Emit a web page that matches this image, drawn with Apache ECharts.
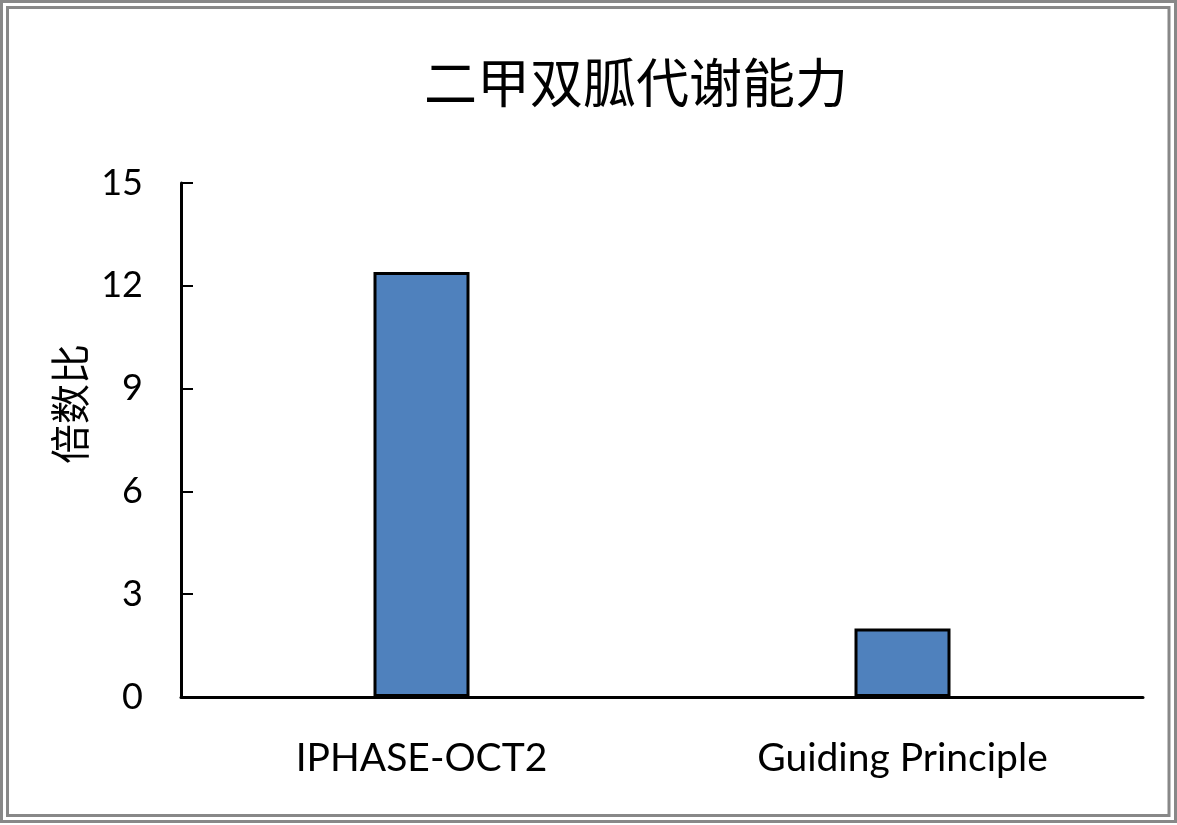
<!DOCTYPE html>
<html><head><meta charset="utf-8">
<script src="https://cdn.jsdelivr.net/npm/echarts@6/dist/echarts.min.js"></script>
<style>html,body{margin:0;padding:0;background:#fff}#c{width:1177px;height:825px}</style>
</head><body><div id="c"></div>
<script>
const categories = ['IPHASE-OCT2', 'Guiding Principle'];
const values = [12.4, 2.0];
const yTicks = [0, 3, 6, 9, 12, 15];
const titleText = '二甲双胍代谢能力';
const yName = '倍数比';

const chart = echarts.init(document.getElementById('c'), null, {renderer: 'canvas'});
chart.setOption({
  animation: false,
  backgroundColor: '#fff',
  grid: {left: 181, right: 34, top: 183, bottom: 128},
  xAxis: {
    type: 'category', data: categories,
    axisLine: {lineStyle: {color: '#000', width: 3}},
    axisTick: {show: false},
    axisLabel: {fontFamily: 'Lato', fontSize: 39, color: '#000', margin: 42}
  },
  yAxis: {
    type: 'value', min: yTicks[0], max: yTicks[yTicks.length - 1], interval: 3,
    axisLine: {show: true, lineStyle: {color: '#000', width: 3}},
    axisTick: {show: true, inside: true, length: 12, lineStyle: {color: '#000', width: 2}},
    splitLine: {show: false},
    axisLabel: {fontFamily: 'Lato', fontSize: 36, color: '#000', margin: 38}
  },
  series: [{
    type: 'bar', data: values, barWidth: 96,
    itemStyle: {color: '#4f81bd', borderColor: '#000', borderWidth: 3}
  }],
  graphic: [
    {type: 'text', x: 636, y: 83, silent: true,
     style: {text: titleText, fontFamily: 'Noto Sans CJK SC', fontSize: 53, fill: '#000', align: 'center', verticalAlign: 'middle'}},
    {type: 'text', x: 70, y: 404, rotation: Math.PI / 2, silent: true,
     style: {text: yName, fontFamily: 'Noto Sans CJK SC', fontSize: 40, fill: '#000', align: 'center', verticalAlign: 'middle'}},
    {type: 'rect', shape: {x: 1.5, y: 1.5, width: 1174, height: 820}, style: {fill: null, stroke: '#888', lineWidth: 3}, silent: true},
    {type: 'rect', shape: {x: 7.5, y: 7.5, width: 1161.5, height: 808}, style: {fill: null, stroke: '#888', lineWidth: 3}, silent: true}
  ]
});
</script></body></html>
